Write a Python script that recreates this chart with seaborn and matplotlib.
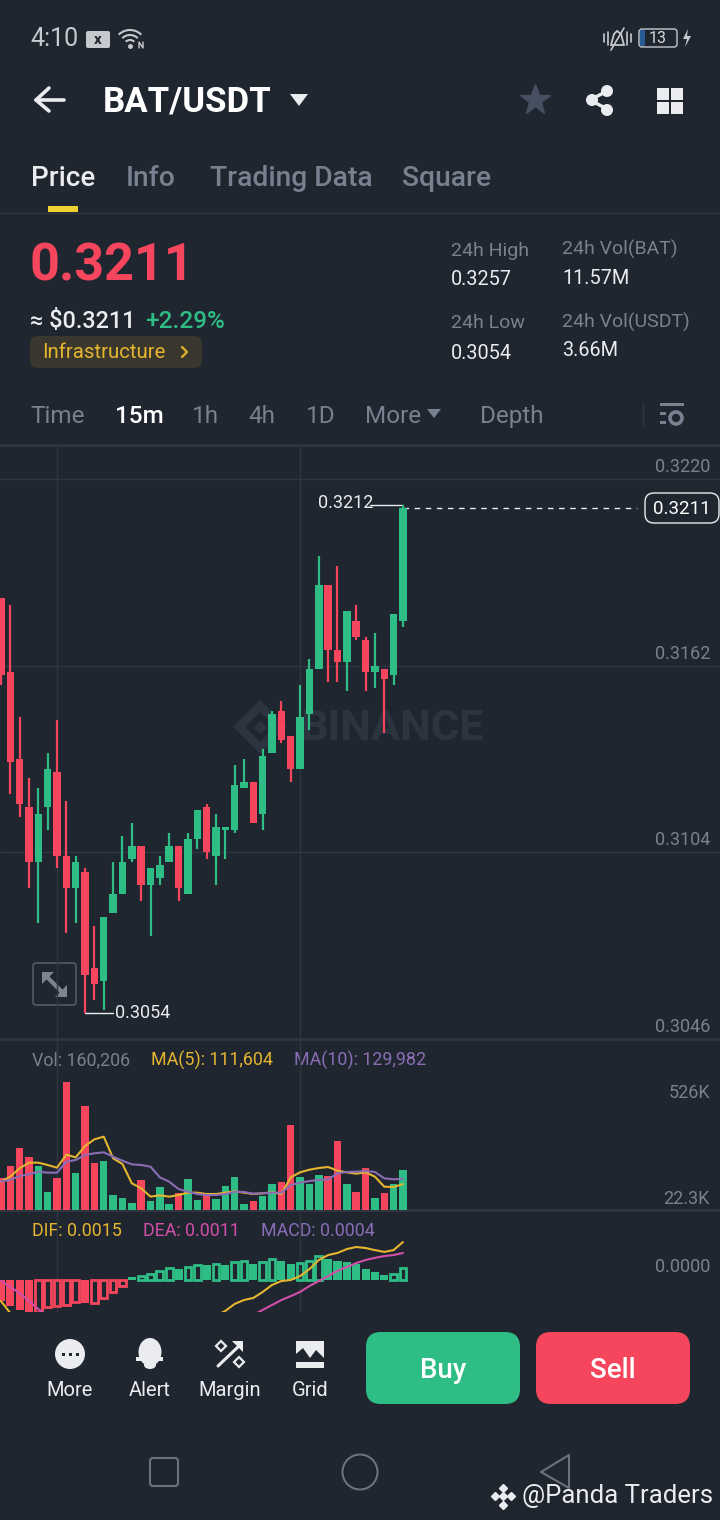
import numpy as np
import matplotlib
matplotlib.use("Agg")
import matplotlib.pyplot as plt
from matplotlib.patches import FancyBboxPatch, Circle, Ellipse, Polygon, Rectangle, Arc
import seaborn as sns

# candles, oldest first
opens = [.3183,.3160,.3133,.3118,.3101,.3118,.3129,.3103,.3093,.3098,.3068,.3064,.3085,.3091,.3102,.3106,.3094,.3096,.3101,.3106,.3091,
         .3108,.3118,.3103,.3111,.3111,.3124,.3126,.3116,.3135,.3148,.3140,.3130,.3147,.3161,.3187,.3167,.3163,.3176,.3170,.3160,.3161,.3159,.3176]
highs = [.3183,.3181,.3146,.3127,.3124,.3135,.3145,.3120,.3103,.3099,.3081,.3084,.3101,.3109,.3113,.3106,.3099,.3103,.3110,.3106,.3110,
         .3117,.3119,.3116,.3112,.3131,.3133,.3126,.3136,.3148,.3151,.3140,.3156,.3164,.3196,.3187,.3193,.3179,.3181,.3171,.3172,.3161,.3178,.3212]
lows = [.3156,.3122,.3115,.3093,.3082,.3111,.3099,.3079,.3082,.3054,.3058,.3055,.3085,.3091,.3101,.3089,.3078,.3094,.3101,.3089,.3091,
        .3105,.3102,.3094,.3102,.3110,.3124,.3113,.3111,.3135,.3138,.3126,.3130,.3142,.3161,.3157,.3157,.3154,.3170,.3154,.3155,.3141,.3156,.3174]
closes = [.3159,.3132,.3119,.3101,.3116,.3130,.3103,.3093,.3101,.3066,.3063,.3084,.3091,.3101,.3106,.3094,.3099,.3100,.3106,.3093,.3108,
          .3117,.3104,.3112,.3112,.3125,.3126,.3113,.3134,.3147,.3139,.3130,.3146,.3161,.3187,.3167,.3163,.3179,.3171,.3160,.3162,.3158,.3178,.3211]

volume = [132700,174100,236200,205200,174100,84400,132700,463900,150000,381100,184400,191300,74000,63700,46400,125800,53400,101600,43000,81000,129300,
          56800,74000,60200,105100,136200,43000,53400,70600,112000,118900,315600,136200,112000,143000,139600,260300,112000,84400,167200,63700,81000,112000,160206]
ma5 = [120000,137300,166000,185600,185600,177500,168300,213100,204000,243100,266100,275300,200600,181000,114400,97100,68300,73000,68300,74000,82000,
       82000,77500,77500,82000,86800,82000,77500,79800,83300,77500,135000,152300,161400,167200,170600,157900,152300,147600,152300,137300,102700,101600,111604]
ma10 = [121200,125800,139600,145400,154500,151100,151100,188900,194800,212000,217900,221300,206200,192400,179900,177500,171700,135000,120000,94800,85400,
        77500,74000,74000,77500,85400,84400,78600,79800,82000,82000,108600,116500,122300,125800,128100,148900,153400,154500,156900,153400,131600,128100,129982]

macd = [-.00081,-.00100,-.00115,-.00123,-.00123,-.00104,-.00100,-.00096,-.00085,-.00088,-.00088,-.00069,-.00046,-.00023,.00012,.00015,.00023,.00035,.00046,.00042,.00050,
        .00058,.00058,.00062,.00058,.00069,.00073,.00062,.00069,.00081,.00073,.00062,.00065,.00073,.00092,.00081,.00073,.00069,.00062,.00042,.00031,.00019,.00023,.00046]
macd_hollow = [0,0,0,0,1,1,1,1,1,0,1,1,1,1,0,1,1,1,1,0,1,1,0,1,0,1,1,0,1,1,0,0,1,1,1,0,0,0,0,0,0,0,1,1]
# the middle of dif and dea runs below the bottom of the pane, so only the visible ends are kept
dif_left = [-.00081,-.00127]
dif_right = [-.00138,-.00119,-.00092,-.00077,-.00069,-.00046,-.00019,-.00004,0,.00015,.00042,.00077,.00096,.00104,.00119,.00127,.00123,.00115,.00108,.00115,.00146]
dea_left = [-.00004,-.00027,-.00050,-.00081,-.00112,-.00138]
dea_right = [-.00135,-.00115,-.00096,-.00077,-.00062,-.00046,-.00023,-.00004,.00015,.00035,.00050,.00065,.00077,.00085,.00092,.00096,.00104]

price_ticks = [.3220,.3162,.3104,.3046]
vol_tick_labels = ["526K","22.3K"]
time_ticks = [6,32]

BG = "#1f2630"
LINE = "#2f3641"
GREY = "#78818f"
WHITE = "#eaecef"
GREEN = "#2ebd85"
RED = "#f6465d"
YELLOW = "#e6b52f"
PINK = "#d14fa9"
PURPLE = "#8a6db5"
FONT = "Roboto"

sns.set_theme(style="dark")
plt.rcParams["font.family"] = [FONT, "DejaVu Sans"]
plt.rcParams["patch.force_edgecolor"] = False
W, H = 720, 1520
fig = plt.figure(figsize=(7.2, 15.2), dpi=100, facecolor=BG)

n = np.arange(len(opens))
up = np.array(closes) >= np.array(opens)
cols = [GREEN if u else RED for u in up]
XL = (-0.9/9.35, (720-0.9)/9.35)

def pane(top, bottom):
    ax = fig.add_axes([0, 1-bottom/H, 1, (bottom-top)/H])
    ax.patch.set_alpha(0)
    ax.set_xlim(XL)
    for s in ax.spines.values():
        s.set_visible(False)
    ax.tick_params(left=False, bottom=False, labelleft=False, labelbottom=False)
    ax.set_xticks(time_ticks)
    ax.grid(True, axis="x", color=LINE, lw=1)
    return ax

ui = fig.add_axes([0, 0, 1, 1], zorder=0)
ui.set_xlim(0, W)
ui.set_ylim(H, 0)
ui.axis("off")

def txt(x, y, s, size, color=WHITE, ha="left", weight="normal"):
    ui.text(x, y+1.5, s, fontsize=size, color=color, ha=ha, va="center", fontweight=weight)

def rbox(x0, y0, x1, y1, r, fc="none", ec="none", lw=1.0):
    ui.add_patch(FancyBboxPatch((x0, y0), x1-x0, y1-y0, boxstyle="round,pad=0,rounding_size=%s" % r, fc=fc, ec=ec, lw=lw))

# status bar
txt(30, 38, "4:10", 18, "#c6c9ce")
rbox(86, 31, 110, 48, 2, fc="#c6c9ce")
txt(98, 38, "x", 11, BG, ha="center", weight="bold")
for r in [6, 11, 16]:
    ui.add_patch(Arc((130, 46), r*2, r*2, theta1=225, theta2=315, color="#c6c9ce", lw=1.5))
ui.plot([130], [46], "o", ms=2.5, color="#c6c9ce")
ui.plot([139, 139, 143, 143], [48, 42, 48, 42], color="#c6c9ce", lw=1)
for i, h in zip([604, 608, 627, 631], [8, 13, 13, 8]):
    ui.plot([i, i], [38-h/2, 38+h/2], color="#c6c9ce", lw=1.2)
ui.add_patch(Polygon([[611, 45], [614, 34], [617, 31], [621, 34], [624, 45]], fc="none", ec="#c6c9ce", lw=1.3))
ui.plot([611, 624], [50, 28], color="#c6c9ce", lw=1.2)
rbox(639, 29, 677, 47, 3, ec="#c6c9ce", lw=1)
ui.add_patch(Rectangle((640, 30), 4.5, 16, fc="#2a5c94"))
txt(658, 37, "13", 11.5, "#d6d8dc", ha="center")
ui.add_patch(Polygon([[688, 29], [683, 39], [687, 39], [685, 47], [691, 36], [687, 36]], fc="#c6c9ce"))

# header
ui.plot([36, 64], [100, 100], color=WHITE, lw=2.6)
ui.plot([49, 36, 49], [88, 100, 111], color=WHITE, lw=2.6)
txt(103, 101, "BAT/USDT", 25, "#ffffff", weight="bold")
ui.add_patch(Polygon([[290, 94], [308, 94], [299, 106]], fc=WHITE))
ui.plot([535], [100], marker="*", ms=23, color="#454f5f", mec="#454f5f")
ui.plot([609, 590, 609], [90, 100, 110], color=WHITE, lw=2.4)
for x, y in [(607, 91), (592, 100), (607, 110)]:
    ui.add_patch(Circle((x, y), 6, fc=WHITE))
for x, y in [(657, 88), (671, 88), (657, 102), (671, 102)]:
    ui.add_patch(Rectangle((x, y), 12, 11.5, fc=WHITE))

# tabs
txt(31, 177, "Price", 20, WHITE, weight="medium")
for x, s in zip([126, 210, 402], ["Info", "Trading Data", "Square"]):
    txt(x, 177, s, 20.3, GREY, weight="medium")
ui.add_patch(Rectangle((48, 206), 30, 6, fc="#f0d132"))
ui.plot([0, W], [212.5, 212.5], color=LINE, lw=1)

# price block
txt(30, 265, "0.3211", 37.5, RED, weight="bold")
txt(30, 320, "≈ $0.3211", 16.8, WHITE, weight="medium")
txt(145, 320, "+2.29%", 17.5, GREEN, weight="medium")
rbox(30, 336, 202, 368, 8, fc="#3a372e")
txt(42, 351, "Infrastructure", 14.7, YELLOW)
ui.plot([182, 187, 182], [347, 352, 357], color=YELLOW, lw=1.6)
for x, y, s in [(451, 250, "24h High"), (562, 248, "24h Vol(BAT)"), (451, 321, "24h Low"), (562, 321, "24h Vol(USDT)")]:
    txt(x, y, s, 14, GREY)
for x, y, s in [(451, 278, "0.3257"), (562, 277, "11.57M"), (451, 352, "0.3054"), (562, 349, "3.66M")]:
    txt(x, y, s, 14.3, WHITE)

# interval row
for x, s in zip([30, 192, 248, 306, 365, 480], ["Time", "1h", "4h", "1D", "More", "Depth"]):
    txt(x, 415, s, 17.5, GREY)
txt(115, 415, "15m", 17.5, "#ffffff", weight="medium")
ui.add_patch(Polygon([[427, 409], [441, 409], [434, 418]], fc=GREY))
ui.plot([642.5, 642.5], [403, 427], color=LINE, lw=1)
ui.add_patch(Rectangle((660, 403), 24, 3, fc=GREY))
ui.add_patch(Rectangle((660, 412), 6, 3, fc=GREY))
ui.add_patch(Rectangle((660, 421), 6, 3, fc=GREY))
ui.add_patch(Circle((676, 418), 6, fc="none", ec=GREY, lw=2.6))
ui.plot([0, W], [445, 445], color=LINE, lw=2)

# watermark behind the candles
ui.add_patch(Polygon([[260, 706], [281, 727], [260, 748], [239, 727]], fc="none", ec="#2c3440", lw=6))
ui.plot([260], [727], marker="D", ms=6, color="#2c3440")
ui.text(300, 729, "BINANCE", fontsize=31.2, color="#2c3440", ha="left", va="center", fontweight="bold")

# candles
ax = pane(446, 1039)
ax.set_ylim(.3046, .3220 + 33/32190)
ax.set_yticks(price_ticks)
ax.grid(True, axis="y", color=LINE, lw=1)
ax.vlines(n, lows, highs, colors=cols, lw=1.6, zorder=3)
ax.bar(n, np.array(closes)-np.array(opens), bottom=opens, width=0.8, color=cols, linewidth=0, zorder=4)
ax.plot([n[-1], 68], [closes[-1], closes[-1]], color=WHITE, lw=1, ls=(0, (4, 4)), zorder=2)
ax.plot([39.5, 43], [max(highs), max(highs)], color=WHITE, lw=1)
ax.plot([9, 12], [min(lows), min(lows)], color=WHITE, lw=1)
txt(318, 502, "%.4f" % max(highs), 13, WHITE)
txt(115, 1012, "%.4f" % min(lows), 13, WHITE)
rbox(645, 493, 719, 523, 9, ec=WHITE, lw=1, fc=BG)
txt(682, 507.5, "%.4f" % closes[-1], 13.5, "#ffffff", ha="center")
for y, v in zip([465.5, 652.5, 838.5, 1025.5], price_ticks):
    txt(710, y, "%.4f" % v, 13, GREY, ha="right")
ui.plot([0, W], [1039, 1039], color=LINE, lw=2)

# expand button
rbox(33, 963, 76, 1005, 3, ec="#5d6572", lw=1, fc=BG)
ui.plot([44, 65], [974, 995], color="#7d8593", lw=3)
ui.add_patch(Polygon([[42, 972], [54, 972], [42, 984]], fc="#7d8593"))
ui.add_patch(Polygon([[67, 997], [55, 997], [67, 985]], fc="#7d8593"))

# volume pane
vax = pane(1039, 1210)
sns.barplot(x=n, y=volume, hue=n, palette=cols, native_scale=True, width=0.8, legend=False, saturation=1, linewidth=0, ax=vax, zorder=3)
sns.lineplot(x=n, y=ma5, color=YELLOW, lw=1.5, estimator=None, errorbar=None, ax=vax, zorder=4)
sns.lineplot(x=n, y=ma10, color=PURPLE, lw=1.5, estimator=None, errorbar=None, ax=vax, zorder=4)
vax.set_xlim(XL)
vax.set_ylim(22300, 22300+171*3450)
vax.set_xlabel("")
vax.set_ylabel("")
vax.set_yticks([])
vax.grid(True, axis="x", color=LINE, lw=1)
vax.tick_params(left=False, bottom=False, labelleft=False, labelbottom=False)
txt(32, 1059, "Vol: 160,206", 12.9, GREY)
txt(151, 1059, "MA(5): 111,604", 12.9, YELLOW)
txt(294, 1059, "MA(10): 129,982", 12.9, PURPLE)
txt(710, 1091, vol_tick_labels[0], 13, GREY, ha="right")
txt(710, 1197, vol_tick_labels[1], 13, GREY, ha="right")
ui.plot([0, W], [1210, 1210], color=LINE, lw=2)

# macd pane
max_ = pane(1210, 1312)
max_.set_ylim(-32/26000, 70/26000)
mcols = [GREEN if v >= 0 else RED for v in macd]
for i, v in enumerate(macd):
    if macd_hollow[i]:
        max_.bar(i, v, width=0.72, facecolor="none", edgecolor=mcols[i], lw=2, zorder=3)
    else:
        max_.bar(i, v, width=0.86, color=mcols[i], linewidth=0, zorder=3)
sns.lineplot(x=n[:2], y=dif_left, color=YELLOW, lw=1.5, estimator=None, errorbar=None, ax=max_, zorder=4)
sns.lineplot(x=n[23:], y=dif_right, color=YELLOW, lw=1.5, estimator=None, errorbar=None, ax=max_, zorder=4)
sns.lineplot(x=n[:6], y=dea_left, color=PINK, lw=1.5, estimator=None, errorbar=None, ax=max_, zorder=4)
sns.lineplot(x=n[27:], y=dea_right, color=PINK, lw=1.5, estimator=None, errorbar=None, ax=max_, zorder=4)
max_.set_xlim(XL)
max_.set_ylim(-32/26000, 70/26000)
txt(32, 1229, "DIF: 0.0015", 12.9, YELLOW)
txt(143, 1229, "DEA: 0.0011", 12.9, PINK)
txt(261, 1229, "MACD: 0.0004", 12.9, PURPLE)
txt(710, 1266, "0.0000", 13, GREY, ha="right")

# bottom buttons
ui.add_patch(Ellipse((70, 1354), 30, 30, fc=WHITE))
for x in [63, 70, 77]:
    ui.add_patch(Rectangle((x-1.5, 1352.5), 3, 3, fc=BG))
ui.add_patch(Ellipse((150, 1352), 23, 28, fc=WHITE))
ui.add_patch(Rectangle((136, 1357), 27, 4, fc=WHITE))
ui.add_patch(Ellipse((150, 1365), 12, 8, fc=WHITE))
ui.plot([218, 240], [1366, 1345], color=WHITE, lw=2.2)
ui.add_patch(Polygon([[232, 1341], [243, 1341], [243, 1352]], fc=WHITE))
ui.plot([221], [1346], marker="D", ms=5, mfc=BG, mec=WHITE, mew=1.6)
ui.plot([239], [1362], marker="D", ms=5, mfc=BG, mec=WHITE, mew=1.6)
ui.add_patch(Polygon([[296, 1341], [324, 1341], [324, 1358], [316, 1350], [310, 1358], [303, 1348], [296, 1354]], fc=WHITE))
ui.add_patch(Rectangle((296, 1362), 28, 6, fc=WHITE))
for x, s in zip([70, 150, 230, 310], ["More", "Alert", "Margin", "Grid"]):
    txt(x, 1389, s, 14.5, WHITE, ha="center")
rbox(366, 1332, 520, 1404, 15, fc=GREEN)
rbox(536, 1332, 690, 1404, 15, fc=RED)
txt(443, 1369, "Buy", 20, "#ffffff", ha="center", weight="medium")
txt(613, 1369, "Sell", 20, "#ffffff", ha="center", weight="medium")

# navigation bar and credit
NAV = "#6b7079"
rbox(150, 1458, 178, 1486, 3, ec=NAV, lw=1.5)
ui.add_patch(Ellipse((360, 1472), 35, 35, fc="none", ec=NAV, lw=1.5))
ui.add_patch(Polygon([[541, 1472], [569, 1455], [569, 1488]], fc="none", ec=NAV, lw=1.5, joinstyle="round"))
for x, y in [(495, 1496), (503, 1488), (511, 1496), (503, 1505), (503, 1496)]:
    ui.plot([x], [y], marker="D", ms=4, color=WHITE)
txt(522, 1494.5, "@Panda Traders", 18.5, WHITE)

fig.savefig("out.png", dpi=100, facecolor=BG)
